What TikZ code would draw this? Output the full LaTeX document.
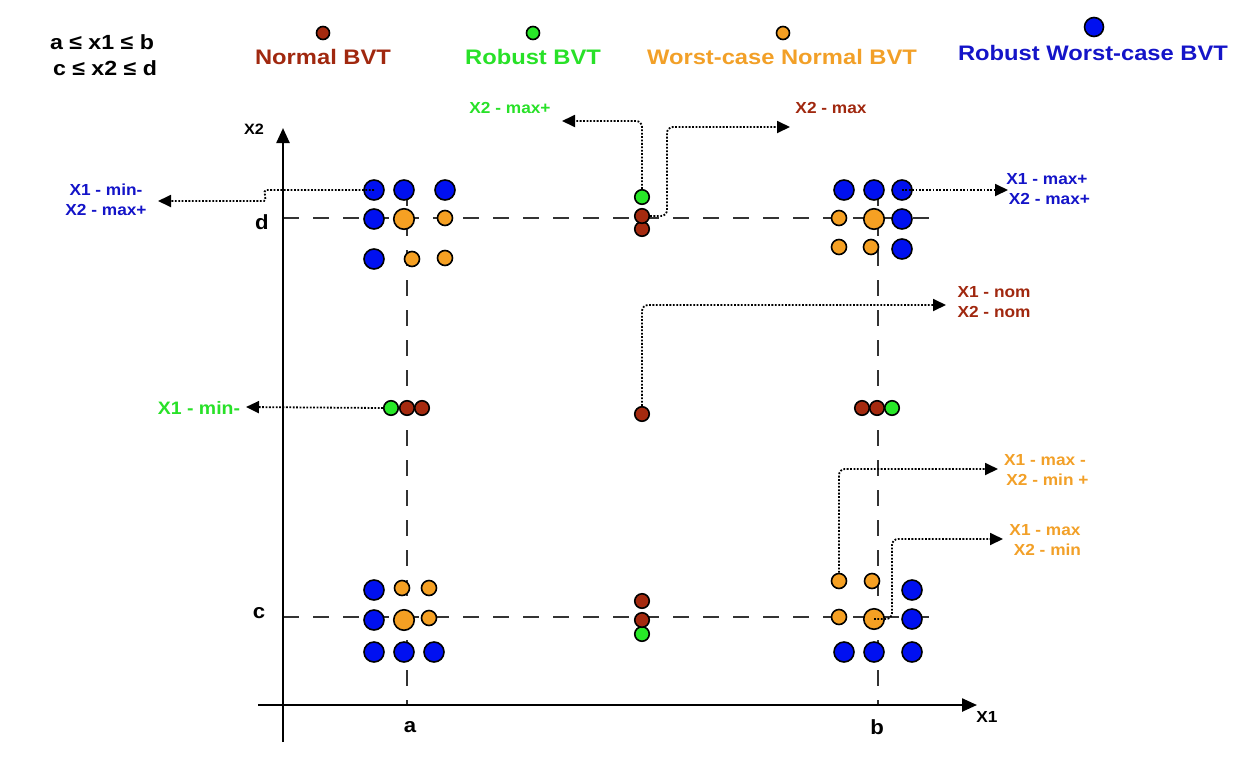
\documentclass[tikz,border=0pt]{standalone}
\usepackage{fontspec}
\newfontfamily\lf[FakeStretch=1.08]{Liberation Sans}
\newfontfamily\lgf[FakeStretch=1.13]{Liberation Sans}
\usetikzlibrary{arrows.meta}
\definecolor{cred}{RGB}{165,42,15}
\definecolor{cgreen}{RGB}{40,232,40}
\definecolor{corange}{RGB}{245,160,35}
\definecolor{cblue}{RGB}{0,16,240}
\definecolor{credtext}{RGB}{160,40,15}
\definecolor{cgreentext}{RGB}{40,225,40}
\definecolor{corangetext}{RGB}{242,160,40}
\definecolor{cbluetext}{RGB}{20,20,200}
\begin{document}
\begin{tikzpicture}[x=1pt,y=-1pt,
  pt/.style={circle,draw=black,line width=1.6pt,inner sep=0pt},
  rdot/.style={pt,fill=cred,minimum size=14.5pt},
  gdot/.style={pt,fill=cgreen,minimum size=14.5pt},
  osm/.style={pt,fill=corange,minimum size=15pt},
  obig/.style={pt,fill=corange,minimum size=20.5pt},
  bdot/.style={pt,fill=cblue,minimum size=20pt},
  dashline/.style={draw=black!80,line width=2pt,dash pattern=on 16pt off 14pt},
  axis/.style={line width=2.4pt,-{Triangle[length=15pt,width=13pt]}},
  callout/.style={line width=1.8pt,dash pattern=on 1.8pt off 1.6pt,rounded corners=6pt,-{Triangle[length=13pt,width=12pt]}},
  lab/.style={font=\lf\bfseries\fontsize{16}{20.5}\selectfont,align=center,inner sep=0pt},
  biglab/.style={font=\lgf\bfseries\fontsize{21}{26}\selectfont,inner sep=0pt},
  ticklab/.style={font=\lf\bfseries\fontsize{20.5}{24}\selectfont,inner sep=0pt}]
\useasboundingbox (0,0) rectangle (1249,766);

% header
\node[biglab,font=\lgf\bfseries\fontsize{20.5}{26}\selectfont] (cons1) at (102,42) {a ≤ x1 ≤ b};
\node[biglab,font=\lgf\bfseries\fontsize{20.5}{26}\selectfont] (cons2) at (105,68) {c ≤ x2 ≤ d};
\node[rdot,minimum size=13pt] (legr) at (323,33) {};
\node[biglab,text=credtext] (legrt) at (323,57) {Normal BVT};
\node[gdot,minimum size=13pt] (legg) at (533,33) {};
\node[biglab,text=cgreentext] (leggt) at (533,57) {Robust BVT};
\node[osm,minimum size=13pt] (lego) at (783,33) {};
\node[biglab,text=corangetext] (legot) at (782,57) {Worst-case Normal BVT};
\node[bdot,minimum size=19pt] (legb) at (1094,27) {};
\node[biglab,text=cbluetext] (legbt) at (1093,53) {Robust Worst-case BVT};

% dashed guide lines
\coordinate (dL) at (283,218); \coordinate (dR) at (935,218);
\coordinate (cL) at (283,617); \coordinate (cR) at (932,617);
\coordinate (aT) at (407,190); \coordinate (aB) at (407,705);
\coordinate (bT) at (878,190); \coordinate (bB) at (878,705);
\draw[dashline] (dL) -- (dR);
\draw[dashline] (cL) -- (cR);
\draw[dashline] (aT) -- (aB);
\draw[dashline] (bT) -- (bB);

% axes
\coordinate (yB) at (283,742); \coordinate (yT) at (283,128);
\coordinate (xL) at (258,705); \coordinate (xR) at (977,705);
\draw[axis] (yB) -- (yT);
\draw[axis] (xL) -- (xR);
\node[lab,font=\lf\bfseries\fontsize{15}{16}\selectfont] (x2lab) at (254,129) {X2};
\node[lab,font=\lf\bfseries\fontsize{16}{16}\selectfont] (x1lab) at (987,717) {X1};
\node[ticklab] (dlab) at (262,222) {d};
\node[ticklab] (clab) at (259,613) {c};
\node[ticklab] (alab) at (410,727) {a};
\node[ticklab] (blab) at (877,727) {b};

% top-left cluster
\node[bdot] (TLb1) at (374,190) {};
\node[bdot] (TLb2) at (404,190) {};
\node[bdot] (TLb3) at (445,190) {};
\node[bdot] (TLb4) at (374,219) {};
\node[obig] (TLo1) at (404,219) {};
\node[osm]  (TLo2) at (445,218) {};
\node[bdot] (TLb5) at (374,259) {};
\node[osm]  (TLo3) at (412,259) {};
\node[osm]  (TLo4) at (445,258) {};

% top middle
\node[gdot] (TMg) at (642,197) {};
\node[rdot] (TMr2) at (642,229) {};
\node[rdot] (TMr1) at (642,216) {};

% top-right cluster
\node[bdot] (TRb1) at (844,190) {};
\node[bdot] (TRb2) at (874,190) {};
\node[bdot] (TRb3) at (902,190) {};
\node[osm]  (TRo1) at (839,218) {};
\node[obig] (TRo2) at (874,219) {};
\node[bdot] (TRb4) at (902,219) {};
\node[osm]  (TRo3) at (839,247) {};
\node[osm]  (TRo4) at (871,247) {};
\node[bdot] (TRb5) at (902,249) {};

% middle rows
\node[gdot] (MLg) at (391,408) {};
\node[rdot] (MLr1) at (407,408) {};
\node[rdot] (MLr2) at (422,408) {};
\node[rdot] (MRr1) at (862,408) {};
\node[rdot] (MRr2) at (877,408) {};
\node[gdot] (MRg) at (892,408) {};
\node[rdot] (Cr) at (642,414) {};

% bottom-left cluster
\node[bdot] (BLb1) at (374,590) {};
\node[osm]  (BLo1) at (402,588) {};
\node[osm]  (BLo2) at (429,588) {};
\node[bdot] (BLb2) at (374,620) {};
\node[obig] (BLo3) at (404,620) {};
\node[osm]  (BLo4) at (429,618) {};
\node[bdot] (BLb3) at (374,652) {};
\node[bdot] (BLb4) at (404,652) {};
\node[bdot] (BLb5) at (434,652) {};

% bottom middle
\node[gdot] (BMg) at (642,634) {};
\node[rdot] (BMr2) at (642,620) {};
\node[rdot] (BMr1) at (642,601) {};

% bottom-right cluster
\node[osm]  (BRo1) at (839,581) {};
\node[osm]  (BRo2) at (872,581) {};
\node[bdot] (BRb1) at (912,590) {};
\node[osm]  (BRo3) at (839,617) {};
\node[obig] (BRo4) at (874,619) {};
\node[bdot] (BRb2) at (912,619) {};
\node[bdot] (BRb3) at (844,652) {};
\node[bdot] (BRb4) at (874,652) {};
\node[bdot] (BRb5) at (912,652) {};

% callout end points
\coordinate (e1) at (158,201);
\coordinate (e2) at (562,121);
\coordinate (e3) at (790,127);
\coordinate (e4) at (1008,190);
\coordinate (e5) at (946,305);
\coordinate (e6) at (246,407);
\coordinate (e7) at (998,469);
\coordinate (e8) at (1003,539);

% callouts
\draw[callout] (TLb1.center) -- (272,190) .. controls (262,190) and (268,201) .. (258,201) -- (e1);
\draw[callout] (TMg.north) -- (642,121) -- (e2);
\draw[callout] (TMr1.east) -- (667,216) -- (667,127) -- (e3);
\draw[callout] (TRb3.center) -- (e4);
\draw[callout] (Cr.north) -- (642,305) -- (e5);
\draw[callout] (MLg.west) -- (e6);
\draw[callout] (BRo1.north) -- (839,469) -- (e7);
\draw[callout] (BRo4.center) -- (892,619) -- (892,539) -- (e8);

% callout labels
\node[lab,text=cbluetext] (L1) at (106,200) {X1 - min-\\X2 - max+};
\node[lab,text=cgreentext] (L2) at (510,108) {X2 - max+};
\node[lab,text=credtext] (L3) at (831,108) {X2 - max};
\node[lab,text=cbluetext] (L4) at (1047,189) {X1 - max+\\\ X2 - max+};
\node[lab,text=credtext] (L5) at (994,302) {X1 - nom\\X2 - nom};
\node[lab,text=cgreentext,font=\lf\bfseries\fontsize{18}{22}\selectfont] (L6) at (199,408) {X1 - min-};
\node[lab,text=corangetext] (L7) at (1045,470) {X1 - max -\\\ X2 - min +};
\node[lab,text=corangetext] (L8) at (1045,540) {X1 - max\\\ X2 - min};
\end{tikzpicture}
\end{document}
